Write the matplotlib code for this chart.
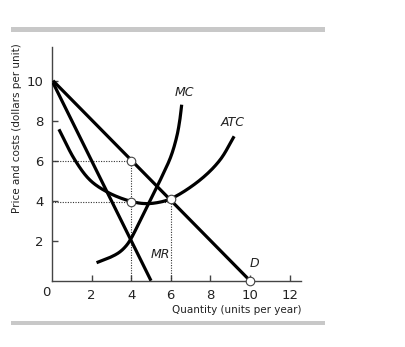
import numpy as np
import matplotlib
matplotlib.use("Agg")
import matplotlib.pyplot as plt

# Data
demand_q = [0.05, 10.0]
demand_p = [10.0, 0.0]
mr_q = [0.05, 5.0]
mr_p = [9.9, 0.0]
mc_q = [2.25, 2.9, 3.4, 3.75, 4.0, 4.5, 5.0, 5.5, 6.0, 6.3, 6.45, 6.55]
mc_p = [0.9, 1.15, 1.42, 1.75, 2.12, 3.1, 4.1, 5.1, 6.2, 7.2, 8.0, 8.8]
atc_q = [0.35, 1.16, 1.92, 2.76, 3.77, 4.6, 5.3, 6.05, 7.47, 8.48, 9.2]
atc_p = [7.57, 6.03, 5.03, 4.45, 4.03, 3.86, 3.9, 4.12, 5.03, 6.03, 7.22]
points_q = [4, 4, 6, 10]
points_p = [6, 3.95, 4.1, 0]
xticks = [2, 4, 6, 8, 10, 12]
yticks = [2, 4, 6, 8, 10]

def smooth(xs, ys, n=24, alpha=0.5):
    P = np.column_stack([np.asarray(xs, float), np.asarray(ys, float)])
    P = np.vstack([2 * P[0] - P[1], P, 2 * P[-1] - P[-2]])
    out = []
    for i in range(1, len(P) - 2):
        p0, p1, p2, p3 = P[i - 1], P[i], P[i + 1], P[i + 2]
        t0 = 0.0
        t1 = t0 + np.linalg.norm(p1 - p0) ** alpha
        t2 = t1 + np.linalg.norm(p2 - p1) ** alpha
        t3 = t2 + np.linalg.norm(p3 - p2) ** alpha
        t = np.linspace(t1, t2, n, endpoint=False)[:, None]
        a1 = (t1 - t) / (t1 - t0) * p0 + (t - t0) / (t1 - t0) * p1
        a2 = (t2 - t) / (t2 - t1) * p1 + (t - t1) / (t2 - t1) * p2
        a3 = (t3 - t) / (t3 - t2) * p2 + (t - t2) / (t3 - t2) * p3
        b1 = (t2 - t) / (t2 - t0) * a1 + (t - t0) / (t2 - t0) * a2
        b2 = (t3 - t) / (t3 - t1) * a2 + (t - t1) / (t3 - t1) * a3
        out.append((t2 - t) / (t2 - t1) * b1 + (t - t1) / (t2 - t1) * b2)
    out.append(P[-2][None, :])
    out = np.vstack(out)
    return out[:, 0], out[:, 1]

plt.rcParams['font.family'] = ['DejaVu Sans']
W, H = 405, 347
fig = plt.figure(figsize=(W / 100, H / 100), dpi=100)

x0, y0 = 52, 280.7
sx, sy = 19.8, 20.0
xmax, ymax = 12.6, 11.7
ax = fig.add_axes([x0 / W, (H - y0) / H, xmax * sx / W, ymax * sy / H])
ax.set_xlim(0, xmax)
ax.set_ylim(0, ymax)
for s in ['top', 'right']:
    ax.spines[s].set_visible(False)
for s in ['left', 'bottom']:
    ax.spines[s].set_linewidth(1.0)
    ax.spines[s].set_color('#444444')

ax.set_xticks(xticks)
ax.set_yticks(yticks)
ax.tick_params(direction='in', length=4, width=1, colors='#444444', labelsize=9.5, labelcolor='#222222', pad=6)

lw = 2.3
ax.plot(demand_q, demand_p, color='black', lw=lw, solid_capstyle='butt', zorder=3)
ax.plot(mr_q, mr_p, color='black', lw=lw, solid_capstyle='butt', zorder=3)
mx, my = smooth(mc_q, mc_p)
ax.plot(mx, my, color='black', lw=lw, solid_capstyle='butt', zorder=3)
axq, ayp = smooth(atc_q, atc_p)
ax.plot(axq, ayp, color='black', lw=lw, solid_capstyle='butt', zorder=3)

dkw = dict(color='#333333', lw=0.8, ls=(0, (1, 1.3)), zorder=2)
ax.plot([0, points_q[0]], [points_p[0], points_p[0]], **dkw)
ax.plot([points_q[0], points_q[0]], [0, points_p[0]], **dkw)
ax.plot([0, points_q[2]], [points_p[1], points_p[1]], **dkw)
ax.plot([points_q[2], points_q[2]], [0, points_p[2]], **dkw)

ax.scatter(points_q, points_p, s=38, facecolor='white', edgecolor='#444444', linewidth=0.8, zorder=5, clip_on=False)

lab = dict(fontsize=9, style='italic', color='#222222')
ax.text(6.7, 9.4, 'MC', ha='center', va='center', **lab)
ax.text(9.15, 7.9, 'ATC', ha='center', va='center', **lab)
ax.text(5.45, 1.3, 'MR', ha='center', va='center', **lab)
ax.text(10.25, 0.85, 'D', ha='center', va='center', **lab)

fig.text(46.7 / W, 1 - 293 / H, '0', ha='center', va='center', fontsize=9.5, color='#222222')
fig.text(302 / W, 1 - 310 / H, 'Quantity (units per year)', ha='right', va='center', fontsize=7.5, color='#222222')
fig.text(17 / W, 1 - 128 / H, 'Price and costs (dollars per unit)', ha='center', va='center',
         rotation=90, fontsize=7.5, color='#222222')

# gray rules
fig.patches.append(plt.Rectangle((11 / W, 1 - 31.5 / H), 314 / W, 4.5 / H, transform=fig.transFigure,
                                 facecolor='#c8c8c8', edgecolor='none'))
fig.patches.append(plt.Rectangle((11 / W, 1 - 325 / H), 314 / W, 4.5 / H, transform=fig.transFigure,
                                 facecolor='#c8c8c8', edgecolor='none'))

fig.savefig('out.png', dpi=100)
